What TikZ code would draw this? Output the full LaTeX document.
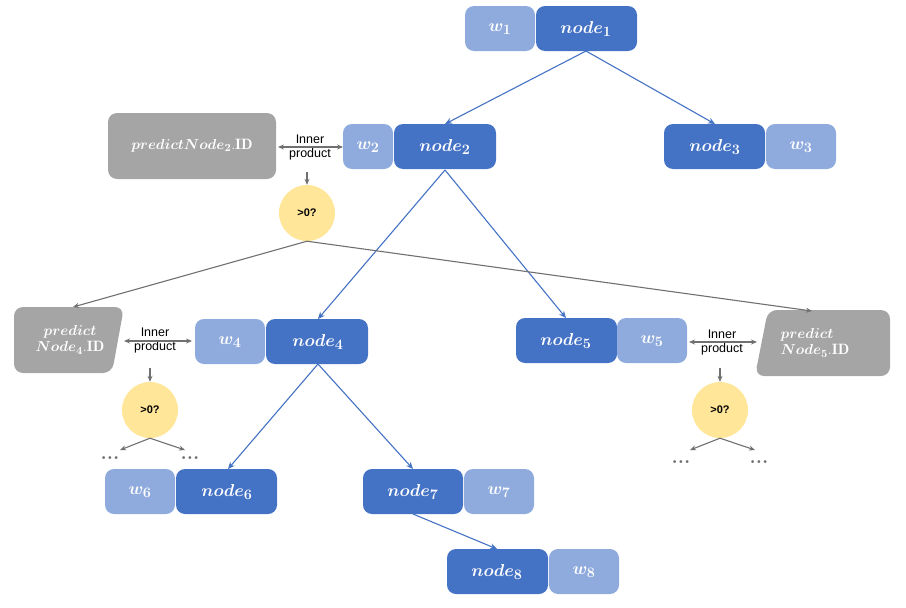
\documentclass[tikz,border=0pt]{standalone}
\usepackage{fontspec}
\usepackage{amsmath,bm}
\newfontfamily\sansf{Liberation Sans}
\usetikzlibrary{arrows.meta}
\definecolor{dk}{HTML}{4472C4}
\definecolor{lt}{HTML}{8FAADC}
\definecolor{gr}{HTML}{A5A5A5}
\definecolor{yl}{HTML}{FFE699}
\definecolor{ar}{HTML}{707070}
\begin{document}
\begin{tikzpicture}[x=1pt,y=-1pt,
  box/.style={rounded corners=9pt,draw=none,text=white,font=\fontsize{19}{20}\selectfont},
  bl/.style={->,>={Stealth[length=7pt,width=6pt]},draw=dk,line width=1.1pt},
  ga/.style={->,>={Stealth[length=6pt,width=5pt]},draw=ar,line width=1.1pt},
  gd/.style={<->,>={Stealth[length=6pt,width=5pt]},draw=ar,line width=1.1pt},
  lab/.style={font=\sansf\fontsize{12.5}{14}\selectfont,align=center},
  circ/.style={circle,fill=yl,minimum size=56pt,inner sep=0pt,font=\sansf\bfseries\fontsize{11}{12}\selectfont},
  dots/.style={font=\bfseries\fontsize{20}{20}\selectfont,text=ar}]
\useasboundingbox (0,0) rectangle (906,608);
\newcommand\bx[6]{\fill[#6,rounded corners=9pt] (#1,#2) rectangle (#3,#4); \node[box] (#5) at ({(#1+#3)/2},{(#2+#4)/2}) {};}
% nodes
\fill[lt,rounded corners=9pt] (465,6) rectangle (535,51); \node[box] (w1) at (500,29) {$\bm{w_1}$};
\fill[dk,rounded corners=9pt] (536,6) rectangle (637,51); \node[box] (n1) at (586,29) {$\bm{node_1}$};
\fill[lt,rounded corners=9pt] (343,124) rectangle (393,169); \node[box] (w2) at (368,147) {$\bm{w_2}$};
\fill[dk,rounded corners=9pt] (394,124) rectangle (496,169); \node[box] (n2) at (445,147) {$\bm{node_2}$};
\fill[dk,rounded corners=9pt] (664,124) rectangle (765,169); \node[box] (n3) at (715,147) {$\bm{node_3}$};
\fill[lt,rounded corners=9pt] (766,124) rectangle (836,169); \node[box] (w3) at (801,147) {$\bm{w_3}$};
\fill[lt,rounded corners=9pt] (195,319) rectangle (265,364); \node[box] (w4) at (230,342) {$\bm{w_4}$};
\fill[dk,rounded corners=9pt] (266,319) rectangle (368,364); \node[box] (n4) at (318,342) {$\bm{node_4}$};
\fill[dk,rounded corners=9pt] (516,318) rectangle (617,363); \node[box] (n5) at (566,341) {$\bm{node_5}$};
\fill[lt,rounded corners=9pt] (617,318) rectangle (687,363); \node[box] (w5) at (652,341) {$\bm{w_5}$};
\fill[lt,rounded corners=9pt] (105,469) rectangle (175,514); \node[box] (w6) at (140,492) {$\bm{w_6}$};
\fill[dk,rounded corners=9pt] (176,469) rectangle (277,514); \node[box] (n6) at (227,492) {$\bm{node_6}$};
\fill[dk,rounded corners=9pt] (363,469) rectangle (463,514); \node[box] (n7) at (413,492) {$\bm{node_7}$};
\fill[lt,rounded corners=9pt] (464,469) rectangle (534,514); \node[box] (w7) at (499,492) {$\bm{w_7}$};
\fill[dk,rounded corners=9pt] (447,549) rectangle (548,594); \node[box] (n8) at (497,572) {$\bm{node_8}$};
\fill[lt,rounded corners=9pt] (549,549) rectangle (619,594); \node[box] (w8) at (584,572) {$\bm{w_8}$};
% predict boxes
\fill[gr,rounded corners=9pt] (108,113) rectangle (276,179);
\node[box,font=\fontsize{15}{16}\selectfont] (p2) at (192,146) {$\bm{predictNode_2}.\mathbf{ID}$};
\fill[gr,rounded corners=9pt] (14,307) -- (124,307) -- (112,373) -- (14,373) -- cycle;
\node[box,align=center,font=\fontsize{15}{18}\selectfont] (p4) at (70,340) {$\bm{predict}$\\[-2pt]$\bm{Node_4}.\mathbf{ID}$};
\fill[gr,rounded corners=9pt] (768,310) -- (890,310) -- (890,376) -- (755,376) -- cycle;
\node[box,align=left,font=\fontsize{15}{18}\selectfont] (p5) at (815,343) {$\bm{predict}$\\[-2pt]$\bm{Node_5}.\mathbf{ID}$};
% circles
\node[circ] (c1) at (307,213) {>0?};
\node[circ] (c2) at (150,410) {>0?};
\node[circ] (c3) at (720,410) {>0?};
% labels
\node[lab] (l1) at (310,147) {Inner\\product};
\node[lab] (l2) at (155,340) {Inner\\product};
\node[lab] (l3) at (722,342) {Inner\\product};
\coordinate (a1) at (278,147); \coordinate (b1) at (343,147);
\draw[gd] (a1) -- (b1);
\coordinate (a2) at (124,341); \coordinate (b2) at (192,341);
\draw[gd] (a2) -- (b2);
\coordinate (a3) at (689,342); \coordinate (b3) at (757,342);
\draw[gd] (a3) -- (b3);
\draw[ga] (307,172) -- (c1.north);
\draw[ga] (150,368) -- (c2.north);
\draw[ga] (720,368) -- (c3.north);
% tree edges
\draw[bl] (586,51) -- (445,124);
\draw[bl] (586,51) -- (715,124);
\draw[bl] (445,170) -- (318,319);
\draw[bl] (445,170) -- (566,318);
\draw[bl] (318,364) -- (228,469);
\draw[bl] (318,364) -- (413,469);
\draw[bl] (413,514) -- (497,549);
% gray branches
\draw[ga] (c1.south) -- (73,307);
\draw[ga] (c1.south) -- (812,311);
\draw[ga] (c2.south) -- (120,450);
\draw[ga] (c2.south) -- (185,450);
\draw[ga] (c3.south) -- (690,450);
\draw[ga] (c3.south) -- (755,450);
\node[dots] (d1) at (110,458) {...};
\node[dots] (d2) at (190,458) {...};
\node[dots] (d3) at (681,462) {...};
\node[dots] (d4) at (759,462) {...};
\end{tikzpicture}
\end{document}
